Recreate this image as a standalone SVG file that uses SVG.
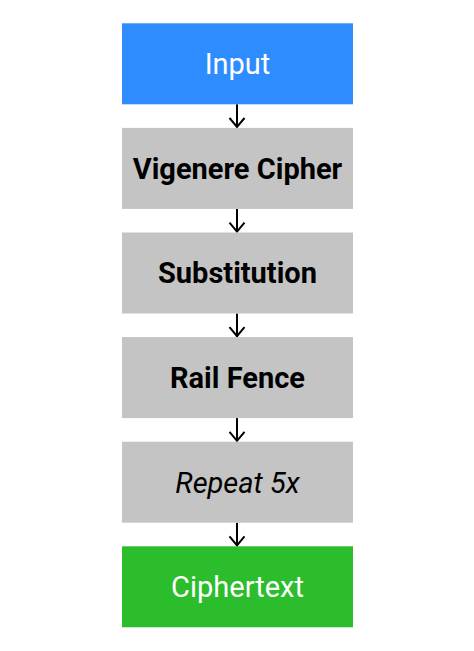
<svg xmlns="http://www.w3.org/2000/svg" width="474" height="651" viewBox="0 0 474 651">
<defs>
<style>
.box{stroke:none}
.grey{fill:#c4c4c4}
.t{font-family:Roboto,"Liberation Sans",sans-serif;font-size:29px;text-anchor:middle}
.w{fill:#ffffff}
.b{fill:#000000;font-weight:bold}
.i{fill:#000000;font-style:italic}
.c{stroke:#000;stroke-width:2;fill:none}
</style>
<marker id="ah" viewBox="0 0 12 18" refX="11" refY="9" markerWidth="12" markerHeight="18" markerUnits="userSpaceOnUse" orient="auto">
<path d="M1.5,1.5 L10.5,9 L1.5,16.5" fill="none" stroke="#000" stroke-width="2"/>
</marker>
</defs>
<rect width="474" height="651" fill="#ffffff"/>
<g id="connectors">
<line class="c" x1="237" y1="104.3" x2="237" y2="127.5" marker-end="url(#ah)"/>
<line class="c" x1="237" y1="208.9" x2="237" y2="232.1" marker-end="url(#ah)"/>
<line class="c" x1="237" y1="313.5" x2="237" y2="336.7" marker-end="url(#ah)"/>
<line class="c" x1="237" y1="418.1" x2="237" y2="441.3" marker-end="url(#ah)"/>
<line class="c" x1="237" y1="522.7" x2="237" y2="545.9" marker-end="url(#ah)"/>
</g>
<g id="input"><rect class="box" x="122" y="23.3" width="231" height="81" fill="#2f8cff"/><text class="t w" x="237.5" y="74.1">Input</text></g>
<g id="vigenere"><rect class="box grey" x="122" y="127.9" width="231" height="81"/><text class="t b" x="237.5" y="178.7">Vigenere Cipher</text></g>
<g id="substitution"><rect class="box grey" x="122" y="232.5" width="231" height="81"/><text class="t b" x="237.5" y="283.3">Substitution</text></g>
<g id="railfence"><rect class="box grey" x="122" y="337.1" width="231" height="81"/><text class="t b" x="237.5" y="387.9">Rail Fence</text></g>
<g id="repeat"><rect class="box grey" x="122" y="441.7" width="231" height="81"/><text class="t i" x="237.5" y="492.5">Repeat 5x</text></g>
<g id="ciphertext"><rect class="box" x="122" y="546.3" width="231" height="81" fill="#2bbd2b"/><text class="t w" x="237.5" y="597.1">Ciphertext</text></g>
</svg>
